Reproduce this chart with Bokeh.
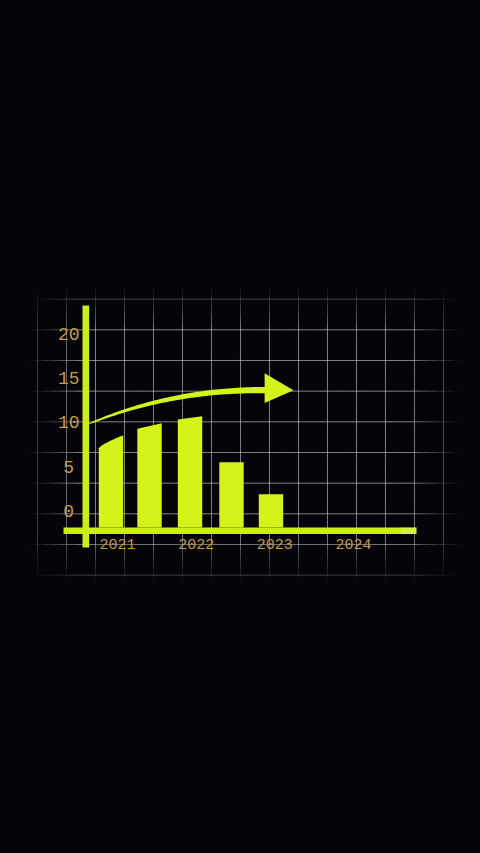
import numpy as np
from bokeh.plotting import figure
from bokeh.models import Range1d
from bokeh.core.properties import value
from bokeh.embed import file_html
from bokeh.resources import INLINE

# ---------------- data ----------------
years = [2021, 2022, 2023, 2024]
year_labels = ["2021", "2022", "2023", "2024"]
y_ticks = [0, 5, 10, 15, 20]
y_tick_labels = ["0", "5", "10", "15", "20"]

bar_x = [2020.917, 2021.407, 2021.922, 2022.449, 2022.951]
bar_top_left = [7.1, 9.3, 10.35, 5.5, 1.9]
bar_top_right = [8.55, 9.9, 10.7, 5.5, 1.9]
bar_base = -1.85
bar_width = 0.31

trend_start = (2020.631, 9.83)
trend_ctrl = (2021.70, 13.75)
trend_end = (2022.88, 13.65)
trend_tip = (2023.237, 13.65)

# ---------------- styles ----------------
BG = "#04040a"
LIME = "#d4f31a"
AXIS_LIME = "#cdec1c"
GOLD = "#c29c48"
GRID = "#d8d8d8"

W, H = 480, 853
x0, x1 = 2019.5128, 2025.6142
y0, y1 = -38.65, 57.63

p = figure(width=W, height=H, output_backend="svg", toolbar_location=None,
           x_range=Range1d(x0, x1), y_range=Range1d(y0, y1),
           background_fill_color=BG, border_fill_color=BG,
           outline_line_color=None, min_border=0)
p.axis.visible = False
p.grid.visible = False

# ---------------- faded grid ----------------
gx = 2019.983 + 0.3686 * np.arange(15)
gy = 23.92 - 3.4616 * np.arange(10)
gx_min, gx_max = 2019.79, 2025.44
gy_min, gy_max = -8.4, 26.0

def ramp(u, edge):
    return np.clip(np.minimum(u, 1 - u) / edge, 0, 1) ** 1.3

xs0, ys0, xs1, ys1, alphas = [], [], [], [], []
n = 60
xe = np.linspace(gx_min, gx_max, n + 1)
for yy in gy:
    vy = ramp((yy - gy_min) / (gy_max - gy_min), 0.16)
    for i in range(n):
        xm = 0.5 * (xe[i] + xe[i + 1])
        a = ramp((xm - gx_min) / (gx_max - gx_min), 0.13) * (0.35 + 0.65 * vy)
        xs0.append(xe[i]); xs1.append(xe[i + 1]); ys0.append(yy); ys1.append(yy)
        alphas.append(0.6 * a)
ye = np.linspace(gy_min, gy_max, n + 1)
for xx in gx:
    vx = ramp((xx - gx_min) / (gx_max - gx_min), 0.13)
    for i in range(n):
        ym = 0.5 * (ye[i] + ye[i + 1])
        a = ramp((ym - gy_min) / (gy_max - gy_min), 0.16) * (0.35 + 0.65 * vx)
        xs0.append(xx); xs1.append(xx); ys0.append(ye[i]); ys1.append(ye[i + 1])
        alphas.append(0.6 * a)
p.segment(x0=xs0, y0=ys0, x1=xs1, y1=ys1, line_color=GRID, line_alpha=alphas,
          line_width=1)

# ---------------- bars ----------------
bxs, bys = [], []
for xc, tl, tr in zip(bar_x, bar_top_left, bar_top_right):
    l, r = xc - bar_width / 2, xc + bar_width / 2
    if tl != tr and tl < 8:
        tt = np.linspace(0, 1, 12)
        tops = tl + (tr - tl) * tt ** 0.75
        bxs.append([l] + list(l + (r - l) * tt) + [r])
        bys.append([bar_base] + list(tops) + [bar_base])
    else:
        bxs.append([l, l, r, r])
        bys.append([bar_base, tl, tr, bar_base])
p.patches(xs=bxs, ys=bys, fill_color=LIME, line_color=None)

# ---------------- axis bars ----------------
p.quad(left=[2020.555], right=[2020.640], bottom=[-4.11], top=[23.2],
       fill_color=AXIS_LIME, line_color=None)
p.quad(left=[2020.314], right=[2024.80], bottom=[-2.6], top=[bar_base],
       fill_color=AXIS_LIME, line_color=None)
p.quad(left=[2024.60], right=[2024.80], bottom=[-2.6], top=[bar_base],
       fill_color="#e6f6a0", fill_alpha=0.35, line_color=None)

# ---------------- trend arrow ----------------
t = np.linspace(0, 1, 60)
cx = (1 - t) ** 2 * trend_start[0] + 2 * t * (1 - t) * trend_ctrl[0] + t ** 2 * trend_end[0]
cy = (1 - t) ** 2 * trend_start[1] + 2 * t * (1 - t) * trend_ctrl[1] + t ** 2 * trend_end[1]
th = 0.06 + 0.66 * np.sqrt(t)
ax_pts = list(cx) + list(cx[::-1])
ay_pts = list(cy + th / 2) + list((cy - th / 2)[::-1])
p.patch(x=ax_pts, y=ay_pts, fill_color=LIME, line_color=None)
p.patch(x=[trend_end[0] - 0.01, trend_tip[0], trend_end[0] - 0.01],
        y=[trend_end[1] + 1.9, trend_tip[1], trend_end[1] - 1.45],
        fill_color=LIME, line_color=None)

# ---------------- labels ----------------
p.text(x=[2020.38] * len(y_ticks), y=y_ticks, text=y_tick_labels,
       text_color=GOLD, text_font=value("Liberation Mono"), text_font_size="18px",
       text_align="center", text_baseline="middle")
p.text(x=years, y=[-3.66] * len(years), text=year_labels,
       text_color=GOLD, text_font=value("Liberation Mono"), text_font_size="15px",
       text_align="center", text_baseline="middle")

html = file_html(p, INLINE, "chart")
html = html.replace("<head>", "<head><style>html,body{background:#04040a;}</style>", 1)
open("out.html", "w").write(html)
